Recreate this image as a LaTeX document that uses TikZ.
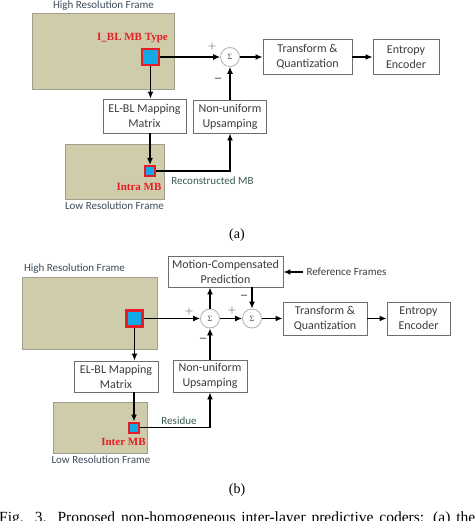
\documentclass[tikz,border=0pt]{standalone}
\usepackage{fontspec}
\setmainfont{Liberation Serif}
\newfontfamily\calibri{Carlito}
\usepackage{tikz}
\usetikzlibrary{positioning,arrows.meta}

\definecolor{framefill}{RGB}{207,204,172}
\definecolor{frameedge}{RGB}{160,158,140}
\definecolor{mbblue}{RGB}{20,168,230}
\definecolor{mbred}{RGB}{228,30,36}
\definecolor{boxedge}{RGB}{110,110,110}
\definecolor{boxtext}{RGB}{60,60,60}
\definecolor{framelabel}{RGB}{60,75,90}
\definecolor{linklabel}{RGB}{55,90,80}

\tikzset{
  block/.style={draw=boxedge, line width=0.9pt, fill=white, text=boxtext, align=center, inner sep=0pt,
    font=\calibri\fontsize{12}{15}\selectfont},
  frame/.style={draw=frameedge, fill=framefill, line width=0.6pt, inner sep=0pt},
  mb/.style={draw=mbred, fill=mbblue, line width=2.4pt, inner sep=0pt},
  mbsmall/.style={mb, line width=2pt, minimum size=10},
  adder/.style={circle, draw=black!30, fill=white, line width=0.8pt, minimum size=19, inner sep=0pt,
    text=black!70, font=\fontsize{8}{8}\selectfont},
  framename/.style={text=framelabel, font=\calibri\fontsize{11}{13}\selectfont},
  mbname/.style={text=mbred, font=\bfseries\fontsize{11}{13}\selectfont},
  linkname/.style={text=linklabel, font=\calibri\fontsize{11}{13}\selectfont},
  plus/.style={text=black!45, inner sep=0pt, font=\fontsize{15}{15}\selectfont},
  minus/.style={text=black!75, inner sep=0pt, font=\bfseries\fontsize{12}{12}\selectfont},
  sublabel/.style={font=\fontsize{14}{16}\selectfont},
  flow/.style={->, line width=1.3pt},
}

\begin{document}
\begin{tikzpicture}[x=1pt, y=-1pt, >={Latex[length=7pt, width=6pt]}]
    \useasboundingbox (0, 0) rectangle (474, 521);
    \clip (0, 0) rectangle (474, 521);

    % (a)
    \node (hrfA) at (103, 51) [frame, minimum width=142, minimum height=76] {};
    \node (hrfAname) at (103.5, 6) [framename] {High Resolution Frame};
    \node (mbA) at (150.5, 57) [mb, minimum size=16.5] {};
    \node (mbAname) at (132.5, 38) [mbname] {I\_BL MB Type};
    \node (sigA) at (230, 57) [adder] {Σ};
    \node (tqA) at (307.5, 57) [block, minimum width=89, minimum height=35] {Transform \&\\Quantization};
    \node (eeA) at (406, 57) [block, minimum width=66, minimum height=35] {Entropy\\Encoder};
    \node (nuA) at (230, 116.5) [block, minimum width=73, minimum height=33] {Non-uniform\\Upsamping};
    \node (elA) at (144.5, 116) [block, minimum width=83, minimum height=34] {EL-BL Mapping\\Matrix};
    \node (lrfA) at (114.5, 171.5) [frame, minimum width=99, minimum height=55] {};
    \node (lrfAname) at (114.5, 206) [framename] {Low Resolution Frame};
    \node (mbA2) at (150, 171) [mbsmall] {};
    \node (mbA2name) at (139, 187) [mbname] {Intra MB};
    \node (recA) at (212.5, 181) [linkname] {Reconstructed MB};
    \node (plusA) at (212, 47) [plus] {+};
    \node (minusA) at (218, 80) [minus] {–};
    \node (capA) at (237, 235) [sublabel] {(a)};

    \draw [flow] (mbA) -- (sigA);
    \draw [flow] (sigA) -- (tqA);
    \draw [flow] (tqA) -- (eeA);
    \draw [flow] (mbA) -- (mbA |- elA.north);
    \draw [flow] (mbA2 |- elA.south) -- (mbA2);
    \draw [flow] (mbA2) -| (nuA);
    \draw [flow] (nuA) -- (sigA);

    % (b)
    \node (hrfB) at (89.5, 313) [frame, minimum width=135, minimum height=72] {};
    \node (hrfBname) at (74.5, 269) [framename] {High Resolution Frame};
    \node (mbB) at (134.5, 318.5) [mb, minimum size=16] {};
    \node (sigB1) at (210, 318.5) [adder] {Σ};
    \node (sigB2) at (252, 318.5) [adder] {Σ};
    \node (mcpB) at (225.5, 271.5) [block, minimum width=115, minimum height=31] {Motion-Compensated\\Prediction};
    \node (refB) at (303, 272) [anchor=west, framename, text=boxtext] {Reference Frames};
    \node (tqB) at (325, 318.5) [block, minimum width=84, minimum height=33] {Transform \&\\Quantization};
    \node (eeB) at (418.5, 318.5) [block, minimum width=63, minimum height=33] {Entropy\\Encoder};
    \node (nuB) at (210, 376) [block, minimum width=74, minimum height=32] {Non-uniform\\Upsamping};
    \node (elB) at (116, 376.5) [block, minimum width=84, minimum height=31] {EL-BL Mapping\\Matrix};
    \node (lrfB) at (100, 427.5) [frame, minimum width=94, minimum height=51] {};
    \node (lrfBname) at (101, 460) [framename] {Low Resolution Frame};
    \node (mbB2) at (134, 427.5) [mbsmall] {};
    \node (mbB2name) at (123.5, 442) [mbname] {Inter MB};
    \node (resB) at (179, 421) [linkname] {Residue};
    \node (plusB1) at (189, 312) [plus] {+};
    \node (minusB1) at (203, 340) [minus] {–};
    \node (plusB2) at (232, 311) [plus] {+};
    \node (minusB2) at (244, 297) [minus] {–};
    \node (capB) at (237, 490) [sublabel] {(b)};

    \draw [flow] (mbB) -- (sigB1);
    \draw [flow] (sigB1) -- (sigB2);
    \draw [flow] (sigB2) -- (tqB);
    \draw [flow] (tqB) -- (eeB);
    \draw [flow] (sigB1) -- (sigB1 |- mcpB.south);
    \draw [flow] (sigB2 |- mcpB.south) -- (sigB2);
    \draw [flow] (refB) -- (refB -| mcpB.east);
    \draw [flow] (mbB) -- (mbB |- elB.north);
    \draw [flow] (mbB2 |- elB.south) -- (mbB2);
    \draw [flow] (mbB2) -| (nuB);
    \draw [flow] (nuB) -- (sigB1);

    \node (caption) at (-1, 522) [anchor=base west, inner sep=0pt, font=\fontsize{15.5}{17}\selectfont]
      {\makebox[476pt][s]{Fig. 3. Proposed non-homogeneous inter-layer predictive coders: (a) the}};
\end{tikzpicture}
\end{document}
